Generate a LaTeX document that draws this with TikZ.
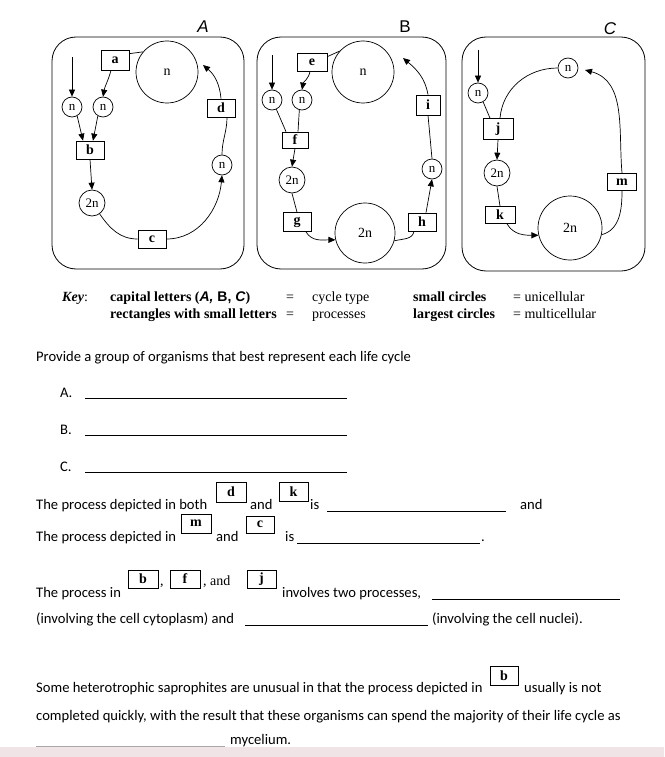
\documentclass[tikz,border=0pt]{standalone}
\usepackage{fontspec}
\setmainfont{Liberation Serif}
\newfontfamily\qfont{Carlito}
\newfontfamily\lsans{Liberation Sans}
\usetikzlibrary{arrows.meta}
\definecolor{pinkband}{RGB}{241,228,230}
\begin{document}
\begin{tikzpicture}[x=1pt,y=-1pt,
  panel/.style={draw,line width=0.8pt,rounded corners=24pt},
  proc/.style={draw,fill=white,line width=0.7pt,minimum width=28pt,minimum height=18pt,inner sep=0pt,font=\fontsize{14}{14}\selectfont\bfseries},
  sc/.style={draw,circle,line width=0.7pt,minimum size=20pt,inner sep=0pt,font=\fontsize{13}{13}\selectfont},
  mc/.style={draw,circle,line width=0.7pt,minimum size=26pt,inner sep=0pt,font=\fontsize{13}{13}\selectfont},
  bc/.style={draw,circle,line width=0.7pt,minimum size=62pt,inner sep=0pt,font=\fontsize{14}{14}\selectfont},
  con/.style={line width=0.7pt},
  arr/.style={line width=0.7pt,-{Triangle[length=7pt,width=6pt]}},
  plabel/.style={anchor=base,font=\lsans\fontsize{17}{17}\selectfont},
  key/.style={anchor=base west,inner sep=0pt,font=\fontsize{14}{15}\selectfont},
  q/.style={anchor=base west,inner sep=0pt,font=\qfont\fontsize{14.6}{15}\selectfont},
  tbox/.style={draw,line width=0.7pt,inner sep=0pt,font=\fontsize{14}{14}\selectfont\bfseries},
  blank/.style={line width=0.6pt}
]
\useasboundingbox (0,0) rectangle (664,757);
\fill[white] (0,0) rectangle (664,757);
\fill[pinkband] (0,747) rectangle (664,757);

% ---------- Panel A ----------
\draw[panel] (52,37) rectangle (244,269);
\node[plabel] (lA) at (203,33) {\itshape A};
\node[proc,minimum height=20pt] (a) at (115,60) {a};
\node[bc] (NA) at (167,72) {n};
\node[sc] (nA1) at (72,107) {n};
\node[sc] (nA2) at (103,107) {n};
\node[proc] (b) at (90,150) {b};
\node[mc] (tA) at (92,203) {2n};
\node[proc] (c) at (152,239) {c};
\node[sc] (nA3) at (222,165) {n};
\node[proc] (d) at (221,108) {d};
\coordinate (sA) at (72,57);
\coordinate (tipA) at (203,65);
\draw[arr] (sA) -- (nA1);
\draw[con] ([yshift=-4pt]a.north east) -- (NA.140);
\draw[arr] ([xshift=-4pt]a.south) to[out=-105,in=80] (nA2.north);
\draw[arr] (nA1.-60) -- ([xshift=-7pt]b.north);
\draw[arr] (nA2.-120) -- ([xshift=3pt]b.north);
\draw[arr] (b.south) -- (tA.north);
\draw[con] (tA.-55) to[out=-55,in=180] (c.west);
\draw[arr] (c.east) to[out=0,in=-95] (nA3.south);
\draw[con] (nA3.north) to[out=90,in=-90] ([xshift=6pt]d.south);
\draw[arr] (d.north) to[out=95,in=-40] (tipA);

% ---------- Panel B ----------
\draw[panel] (257,37) rectangle (446,269);
\node[plabel] (lB) at (405,33) {B};
\node[proc,minimum width=30pt] (e) at (312,62) {e};
\node[bc] (NB) at (363,72) {n};
\node[sc] (nB1) at (272,100) {n};
\node[sc] (nB2) at (302,100) {n};
\node[proc,minimum width=26pt,minimum height=16pt] (f) at (295,140) {f};
\node[mc] (tB) at (292,180) {2n};
\node[proc,minimum height=19pt] (g) at (297,222) {g};
\node[bc,minimum size=60pt] (TB) at (365,233) {2n};
\node[proc] (h) at (422,222) {h};
\node[sc] (nB3) at (432,169) {n};
\node[proc,minimum width=24pt,minimum height=20pt] (i) at (428,105) {i};
\coordinate (sB) at (272,55);
\coordinate (tipB) at (403,58);
\draw[arr] (sB) -- (nB1);
\draw[con] ([yshift=-4pt]e.north east) -- (NB.138);
\draw[arr] ([xshift=-2pt]e.south) to[out=-100,in=80] (nB2.north);
\draw[con] (nB1.-65) -- ([xshift=-9pt]f.north);
\draw[con] (nB2.-105) -- ([xshift=3pt]f.north);
\draw[arr] (f.south) -- (tB.north);
\draw[con] (tB.south) -- (g.north);
\draw[arr] ([xshift=9pt]g.south) to[out=-60,in=180] (TB.193);
\draw[con] (TB.-15) to[out=15,in=-100] ([xshift=-8pt]h.south);
\draw[arr] ([xshift=4pt]h.north) -- (nB3.south);
\draw[con] (nB3.north) -- (i.south);
\draw[arr] (i.north) to[out=100,in=-40] (tipB);

% ---------- Panel C ----------
\draw[panel] (462,37) rectangle (645,271);
\node[plabel] (lC) at (610,35) {\itshape C};
\node[sc] (nC1) at (478,93) {n};
\node[proc,minimum width=30pt,minimum height=21pt] (j) at (498,129) {j};
\node[sc] (nC2) at (568,68) {n};
\node[mc] (tC) at (497,173) {2n};
\node[proc,minimum width=30pt,minimum height=17pt] (k) at (500,215) {k};
\node[bc,minimum size=64pt] (TC) at (570,228) {2n};
\node[proc,minimum width=29pt,minimum height=17pt] (m) at (622,182) {m};
\coordinate (sC) at (478,50);
\coordinate (tipC) at (585,70);
\draw[arr] (sC) -- (nC1);
\draw[con] (nC1.-60) -- ([xshift=-8pt]j.north);
\draw[con] ([xshift=2pt]j.north) to[out=85,in=180] (nC2.west);
\draw[arr] (j.south) -- (tC.north);
\draw[con] (tC.south) -- (k.north);
\draw[arr] ([xshift=7pt]k.south) to[out=-60,in=180] (TC.193);
\draw[con] (TC.-12) to[out=15,in=-90] (m.south);
\draw[arr] (m.north) to[out=95,in=-15] (tipC);

% ---------- Key ----------
\node[key] (k0) at (62,301) {\textbf{\textit{Key}}:};
\node[key] (k1) at (110,301) {\bfseries capital letters ({\lsans\itshape A, \upshape B, \itshape C\/})};
\node[key] (k2) at (286,301) {=};
\node[key] (k3) at (312,301) {cycle type};
\node[key] (k4) at (413,301) {\bfseries small circles};
\node[key] (k5) at (513,301) {= unicellular};
\node[key] (k6) at (110,318) {\bfseries rectangles with small letters};
\node[key] (k7) at (286,318) {=};
\node[key] (k8) at (312,318) {processes};
\node[key] (k9) at (413,318) {\bfseries largest circles};
\node[key] (k10) at (513,318) {= multicellular};

% ---------- Questions ----------
\node[q] (q1) at (36,361) {Provide a group of organisms that best represent each life cycle};
\node[q] (qA) at (60,397) {A.};
\node[q] (qB) at (60,434) {B.};
\node[q] (qC) at (60,471) {C.};
\coordinate (lA1) at (85,398); \coordinate (lA2) at (347,398);
\coordinate (lB1) at (85,435); \coordinate (lB2) at (347,435);
\coordinate (lC1) at (85,472); \coordinate (lC2) at (347,472);
\draw[blank] (lA1) -- (lA2);
\draw[blank] (lB1) -- (lB2);
\draw[blank] (lC1) -- (lC2);

% row: d and k
\node[q] (r1a) at (36,509) {The process depicted in both};
\node[tbox,minimum width=30pt,minimum height=20pt] (bd) at (231,492) {d};
\node[q] (r1b) at (250,509) {and};
\node[tbox,minimum width=29pt,minimum height=19pt] (bk) at (293.5,491.5) {k};
\node[q] (r1c) at (310,509) {is};
\coordinate (l11) at (327,511); \coordinate (l12) at (506,511);
\draw[blank] (l11) -- (l12);
\node[q] (r1d) at (520,509) {and};

% row: m and c
\node[q] (r2a) at (36,541) {The process depicted in};
\node[tbox,minimum width=30pt,minimum height=19pt] (bm) at (196,523.5) {m};
\node[q] (r2b) at (216,541) {and};
\node[tbox,minimum width=28pt,minimum height=17pt] (bc2) at (260,524.5) {c};
\node[q] (r2c) at (285,541) {is};
\coordinate (l21) at (297,543); \coordinate (l22) at (480,543);
\draw[blank] (l21) -- (l22);
\node[q] (r2d) at (481,541) {.};

% row: b, f, j
\node[q] (r3a) at (36,597) {The process in};
\node[tbox,minimum width=30pt,minimum height=18pt] (bb) at (143,579) {b};
\node[key] (r3c1) at (160,585) {,};
\node[tbox,minimum width=30pt,minimum height=18pt] (bf) at (185,579) {f};
\node[key] (r3c2) at (203,585) {, and};
\node[tbox,minimum width=29pt,minimum height=18pt] (bj) at (261.5,579) {j};
\node[q] (r3b) at (282,597) {involves two processes,};
\coordinate (l31) at (432,599); \coordinate (l32) at (620,599);
\draw[blank] (l31) -- (l32);
\node[q] (r4a) at (36,623) {(involving the cell cytoplasm) and};
\coordinate (l41) at (245,625); \coordinate (l42) at (428,625);
\draw[blank] (l41) -- (l42);
\node[q] (r4b) at (432,623) {(involving the cell nuclei).};

% final paragraph
\node[q] (r5a) at (36,692) {Some heterotrophic saprophites are unusual in that the process depicted in};
\node[tbox,minimum width=28pt,minimum height=19pt] (bb2) at (504,675.5) {b};
\node[q] (r5b) at (524,692) {usually is not};
\node[q] (r6) at (36,720) {completed quickly, with the result that these organisms can spend the majority of their life cycle as};
\coordinate (l71) at (36,746); \coordinate (l72) at (225,746);
\draw[blank,gray!70] (l71) -- (l72);
\node[q] (r7) at (230,744) {mycelium.};
\end{tikzpicture}
\end{document}
